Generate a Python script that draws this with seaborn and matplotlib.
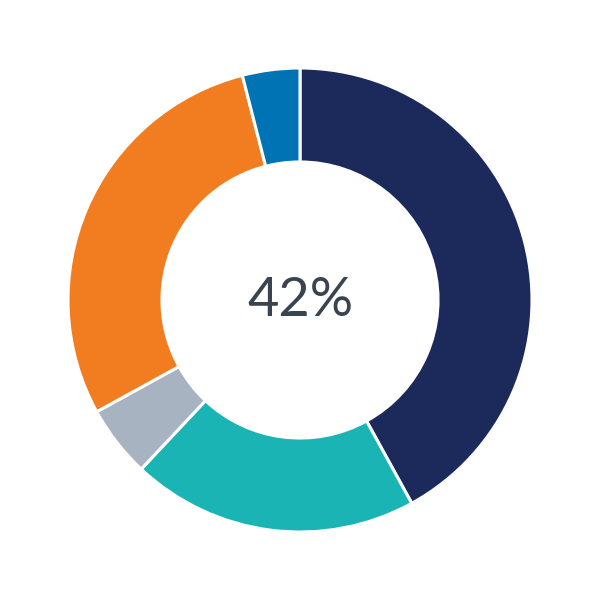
import matplotlib
matplotlib.use("Agg")
import matplotlib.pyplot as plt
import seaborn as sns

# ─── Data ─────────────────────────────────────────────────────────────────────
segments = ["Navy", "Teal", "Gray", "Orange", "Blue"]
shares   = [42, 20, 5, 29, 4]
center_label = "42%"

PALETTE = sns.color_palette(["#1b2a5a", "#1ab4b5", "#a8b3c1", "#f27d21", "#0073b4"])

sns.set_theme(style="white")
plt.rcParams["font.family"] = ["Lato", "DejaVu Sans"]

fig = plt.figure(figsize=(6, 6), dpi=100)
ax = fig.add_axes([0, 0, 1, 1])

R = 232 / 300
ax.pie(
    shares,
    colors=PALETTE,
    startangle=90,
    counterclock=False,
    radius=R,
    wedgeprops=dict(width=R * 0.405, edgecolor="white", linewidth=2.2),
)
ax.text(0, 0, center_label, ha="center", va="center",
        fontsize=39, color="#3a4350")

ax.set_xlim(-1, 1)
ax.set_ylim(-1, 1)
ax.set_aspect("equal")
ax.axis("off")

fig.savefig("out.png", dpi=100, facecolor="white")
